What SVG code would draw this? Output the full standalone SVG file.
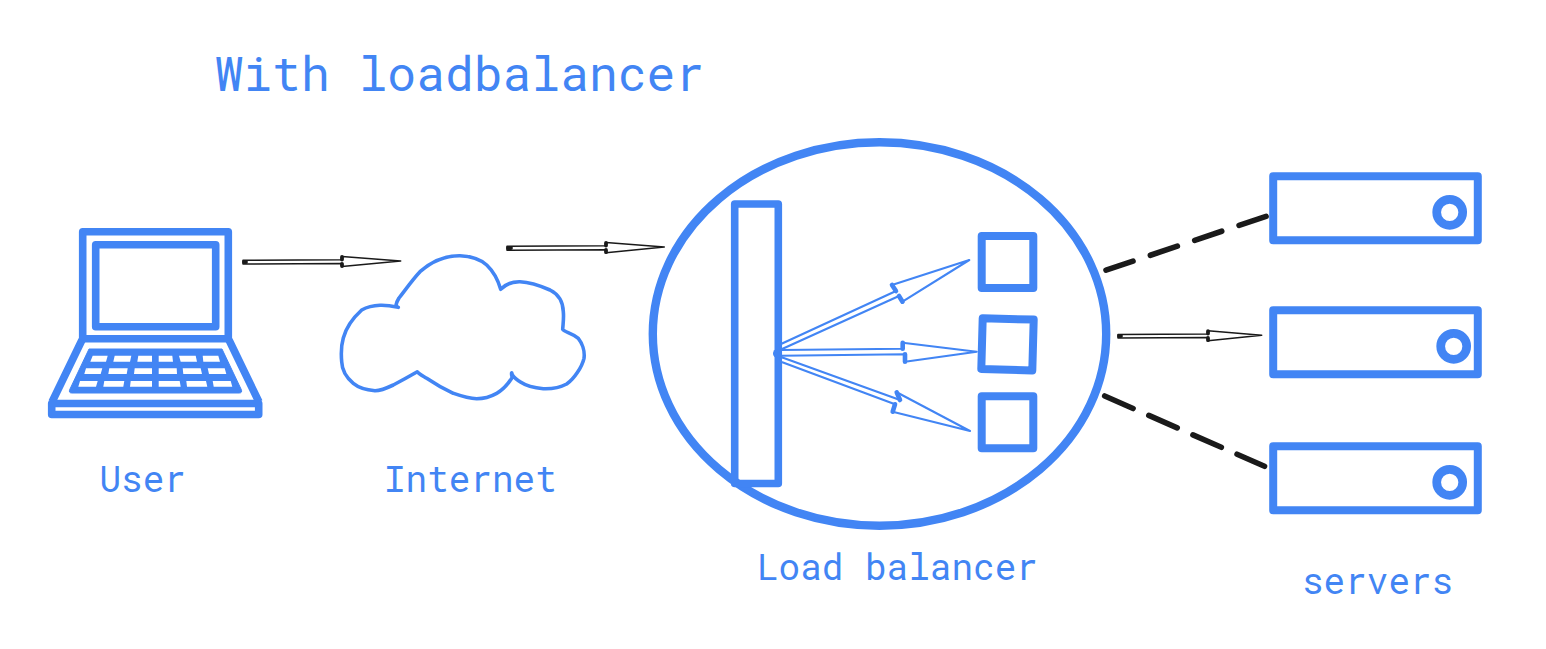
<svg xmlns="http://www.w3.org/2000/svg" width="1546" height="649" viewBox="0 0 1546 649">
<style>
text{font-family:"Roboto Mono","DejaVu Sans Mono","Liberation Mono",monospace;fill:#4285f4}
.t{font-size:36px}
.o{fill:none;stroke:#4285f4;stroke-width:7.6;stroke-linejoin:round}
.e{fill:none;stroke:#4285f4;stroke-width:8.4}
.s{fill:none;stroke:#4285f4;stroke-width:8;stroke-linejoin:round}
.q{fill:none;stroke:#4285f4;stroke-width:8;stroke-linejoin:round}
.c{fill:none;stroke:#4285f4;stroke-width:8.7}
.k{fill:#fff}
.a{fill:#fff;stroke:#1a1a1a;stroke-width:1.5;stroke-linejoin:round}
.ab{fill:none;stroke:#1a1a1a;stroke-width:3.8;stroke-linecap:round}
.b{fill:#fff;stroke:#4285f4;stroke-width:2.1;stroke-linejoin:round}
.bb{fill:none;stroke:#4285f4;stroke-width:4.6;stroke-linecap:round}
.d{fill:none;stroke:#1a1a1a;stroke-width:5.6;stroke-linecap:round}
</style>
<rect width="1546" height="649" fill="#fff"/>
<text id="title" x="214.5" y="91" font-size="48">With loadbalancer</text>
<g id="user">
<rect class="o" x="82.7" y="231.7" width="145.6" height="107"/>
<rect class="o" x="95.7" y="244.7" width="120" height="82"/>
<path class="o" d="M82,340L52,402M229,340L259,402"/>
<rect class="o" x="51.7" y="403.5" width="207" height="11"/>
<path d="M89,349H222L241,389Q243,393 239,393H72Q68,393 70,389Z" fill="#4285f4" stroke="#4285f4" stroke-width="1" stroke-linejoin="round"/>
<path class="k" d="M92.7,355.7H107.7L106,361.7H90.3ZM114.7,355.7H131.3L130,361.7H113.3ZM138.3,355.7H152V361.7H137.3ZM158.7,355.7H172.3L173,361.7H158.7ZM179,355.7H195.7L197,361.7H180.7ZM202.7,355.7H218.3L220,361.7H203.3Z"/>
<path class="k" d="M86,368.3H102.3L100.7,374H84.3ZM109.3,368.3H127.7L126.7,374H108.3ZM134.7,368.3H152V374H134ZM158.7,368.3H176.7L177,374H158.7ZM182.7,368.3H200.7L202,374H183.3ZM207.7,368.3H224.7L226.3,374H209Z"/>
<path class="k" d="M80,381H97.7L96,386.7H78.3ZM104.3,381H124.3L123.3,386.7H103.3ZM130.7,381H152V386.7H130ZM158.7,381H179.7L180.7,386.7H158.7ZM186.3,381H206L207.3,386.7H187ZM212.7,381H230.7L232.3,386.7H213.7Z"/>
<text class="t" x="99.5" y="492">User</text>
</g>
<g id="internet">
<path d="M398.3,307.3C395,306 396,303 399,298C406,289 413,279 420,271.7C431,262 445,255.5 460,255.7C471,256 481,260 486.7,265C493,271 498,280 500.7,289.3C505,285 512,281.5 520,281.7C530,282 541,286 550,290C558,294 563,302 563.3,311.7C564,318 563,324 562.7,329.3C564,332 572,333 578.3,338.3C582,343 585,351 584,358.3C582,367 574,379 566.7,384C559,388 551,389 543.3,388.7C535,388 525,385 520,381.7C516,379 512,377 511.7,372.7C511,376 513,377 511.7,378.3C508,384 503,390 496.7,393.3C490,397 484,398.7 476.7,398.7C468,398.5 461,396 453.3,393.3C444,389 435,384 426.7,378.3C423,376 419,374 417.3,371.8C410,376 401,381 393.3,385C387,388 381,390.7 375,390.7C367,390 359,388 353.3,383.3C347,378 342,370 341.7,361.7C341,354 341,346 343.3,338C346,328 354,317 361.7,310C367,307 373,305.5 380,305.3C386,305 392,306 398.3,307.3Z" fill="none" stroke="#4285f4" stroke-width="3.6" stroke-linejoin="round"/>
<text class="t" x="384" y="492">Internet</text>
</g>
<g id="loadbalancer">
<ellipse class="e" cx="879.5" cy="334" rx="226.7" ry="191.7"/>
<rect class="o" x="734.7" y="204" width="43.6" height="279.5"/>
<rect class="q" x="981.7" y="236" width="51.6" height="52"/>
<path class="q" d="M982.7,318.3L1033.7,319.6L1032.3,370.5L981.3,369Z"/>
<rect class="q" x="981.7" y="396.3" width="51.6" height="52"/>
<text class="t" x="757" y="580">Load balancer</text>
</g>
<g id="servers">
<g id="server1"><rect class="s" x="1273.2" y="176.2" width="204.6" height="64"/><circle class="c" cx="1449.7" cy="212.3" r="13"/></g>
<g id="server2"><rect class="s" x="1273.2" y="310.2" width="204.6" height="64"/><circle class="c" cx="1453.7" cy="346.3" r="13"/></g>
<g id="server3"><rect class="s" x="1273.2" y="446.2" width="204.6" height="64"/><circle class="c" cx="1449.7" cy="482.3" r="13"/></g>
<text class="t" x="1302" y="594">servers</text>
</g>
<g id="connectors">
<path class="d" d="M1106,270.2L1267,216" stroke-dasharray="28.5 18.3"/>
<path class="d" d="M1104.7,396L1264.5,466.3" stroke-dasharray="31 17.2"/>
<path class="a" d="M243,260.3L342,259.7V256.5L400.7,261L342,266.5V263.5L243,264Z"/><path class="ab" d="M244,262H246M342,257V259.5M342,263.8V266"/>
<path class="a" d="M507,246.3L606,245.7V242.5L664.3,247L606,252.7V249.7L507,250.2Z"/><path class="ab" d="M508,248H511M606,243V245.5M606,250V252.2"/>
<path class="a" d="M1118,334.4L1208,333.9V330.7L1261.7,335.3L1208,340.7V337.6L1118,338Z"/><path class="ab" d="M1119,336H1121M1208,331.2V333.5M1208,338V340.2"/>
<path class="b" d="M781,344L896,291L892,285L969.3,260L902.5,301.7L899,296L781,349.5Z"/><path class="bb" d="M892,285L896,291M899,296L902.5,301.7"/>
<path class="b" d="M781,350L902.7,348.7V342.7L976.7,351.7L905,361.7V354.3L781,355.7Z"/><path class="bb" d="M902.7,342.7V348.7M905,354.3V361.7"/>
<path class="b" d="M781,357L900,400L896.7,392.3L970,431L892.7,411.7L895,404.3L781,361.7Z"/><path class="bb" d="M896.7,392.3L900,400M895,404.3L892.7,411.7"/>
<circle cx="777.5" cy="353.5" r="4.5" fill="#4285f4"/>
</g>
</svg>
